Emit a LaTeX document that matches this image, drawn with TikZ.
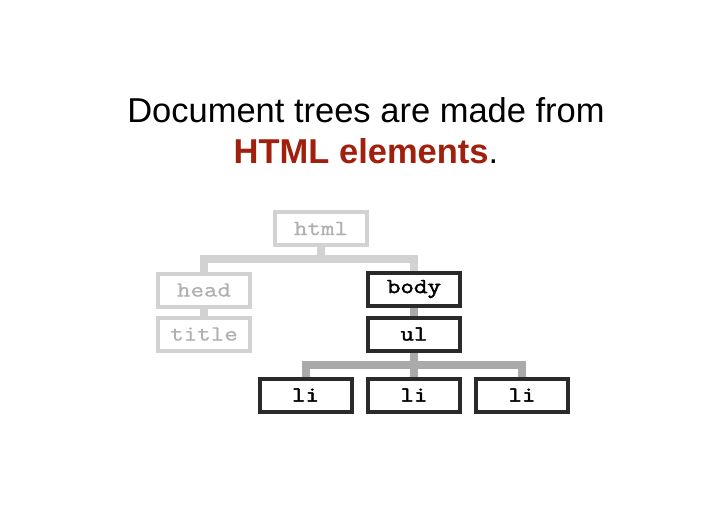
\documentclass[tikz,border=0pt]{standalone}
\usepackage{fontspec}
\setmainfont{Liberation Sans}
\newfontfamily\codefont{Latin Modern Mono}[FakeStretch=1.22, FakeBold=0.8, BoldFont={Latin Modern Mono}, BoldFeatures={FakeBold=2.2, FakeStretch=1.22}]
\definecolor{titlered}{HTML}{A11F0D}
\definecolor{lightline}{HTML}{D2D2D2}
\definecolor{lighttext}{HTML}{B0B0B0}
\definecolor{darkline}{HTML}{2A2A2A}
\definecolor{midbar}{HTML}{AAAAAA}
\begin{document}
\begin{tikzpicture}[x=1pt,y=-1pt,
  boxbase/.style={rectangle, draw, line width=4pt, fill=white, minimum width=92pt, minimum height=33pt, inner sep=0pt, font=\codefont\fontsize{21.5}{22}\selectfont},
  lightbox/.style={boxbase, draw=lightline, text=lighttext},
  darkbox/.style={boxbase, draw=darkline, text=black, font=\codefont\bfseries\fontsize{21.5}{22}\selectfont},
  lightconn/.style={draw=lightline, line width=8pt},
  darkconn/.style={draw=midbar, line width=8pt}]
\useasboundingbox (0,0) rectangle (728,515);
% title
\node[anchor=base, font=\fontsize{34.5}{41}\selectfont] (t1) at (366,122) {Document trees are made from};
\node[anchor=base, font=\fontsize{34.5}{41}\selectfont] (t2) at (366,163) {\textcolor{titlered}{\bfseries HTML elements}.};
% junctions
\coordinate (j1) at (321,259);
\coordinate (j2) at (414,365);
% node positions
\coordinate (phtml) at (321,228.5);
\coordinate (phead) at (204,290);
\coordinate (ptitle) at (204,334);
\coordinate (pbody) at (414,289);
\coordinate (pul) at (414,334);
\coordinate (pli1) at (305.5,395);
\coordinate (pli2) at (414,395);
\coordinate (pli3) at (522,395);
% connectors
\draw[lightconn] (phtml) -- (j1);
\draw[lightconn] (phead) |- (j1) -| (pbody);
\draw[lightconn] (phead) -- (ptitle);
\draw[darkconn] (pbody) -- (pul);
\draw[darkconn] (pul) -- (j2);
\draw[darkconn] (pli1) |- (j2) -| (pli3);
\draw[darkconn] (j2) -- (pli2);
% boxes
\node[lightbox] (html) at (phtml) {html};
\node[lightbox] (head) at (phead) {head};
\node[lightbox] (title) at (ptitle) {title};
\node[darkbox] (body) at (pbody) {body};
\node[darkbox] (ul) at (pul) {ul};
\node[darkbox] (li1) at (pli1) {li};
\node[darkbox] (li2) at (pli2) {li};
\node[darkbox] (li3) at (pli3) {li};
\end{tikzpicture}
\end{document}
